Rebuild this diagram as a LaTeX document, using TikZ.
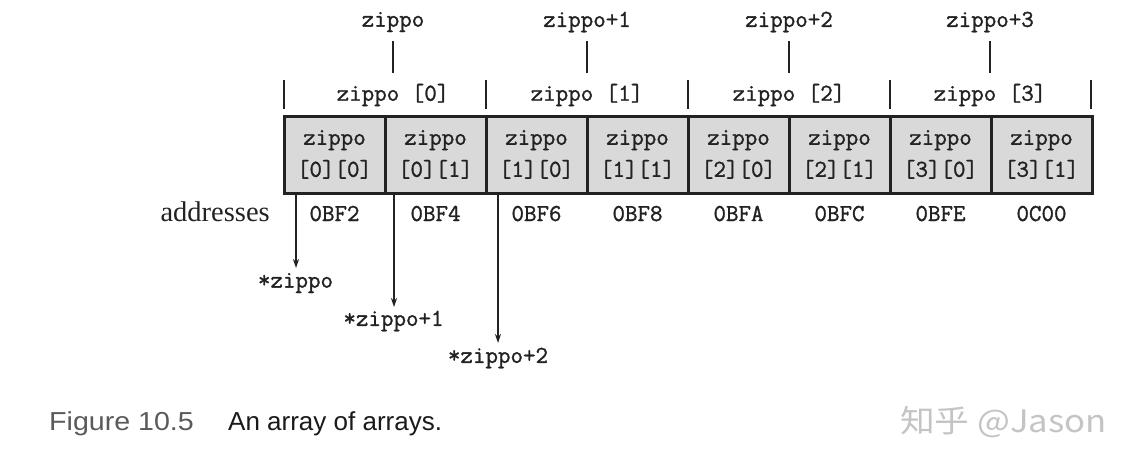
\documentclass[tikz,border=0pt]{standalone}
\usepackage{fontspec}
\usetikzlibrary{arrows.meta}
\newfontfamily\monof[FakeBold=1.3]{Latin Modern Mono}
\newfontfamily\seriff{Liberation Serif}
\newfontfamily\sansf{Liberation Sans}
\newfontfamily\cjkf{Noto Sans CJK SC}
\definecolor{ink}{HTML}{222222}
\definecolor{cellfill}{HTML}{D9D9D9}
\definecolor{capgray}{HTML}{5A5A5A}
\definecolor{capdark}{HTML}{1A1A1A}
\definecolor{wmgray}{HTML}{C4C4C4}
\tikzset{
  mono/.style={font=\monof\fontsize{24.3}{32}\selectfont, text=ink, inner sep=0pt},
  cellbox/.style={mono, draw=ink, line width=3pt, fill=cellfill, minimum width=101pt, minimum height=77pt, align=center},
  thin/.style={draw=ink, line width=1.3pt},
  ptr/.style={thin, -{Stealth[length=9pt,width=6pt]}},
}
\begin{document}
\begin{tikzpicture}[x=1pt,y=-1pt]
\useasboundingbox (0,0) rectangle (1134,466);
% cells
\foreach \i in {0,...,3}{
  \foreach \j in {0,1}{
    \pgfmathsetmacro{\cx}{334.5+101*(2*\i+\j)}
    \node[cellbox] (c\i\j) at (\cx,154.5) {zippo\\{[}\i{]}{[}\j{]}};
  }
}
% group labels
\node[mono] (g0) at (393,95) {zippo [0]};
\node[mono] (g1) at (587,95) {zippo [1]};
\node[mono] (g2) at (789,95) {zippo [2]};
\node[mono] (g3) at (990,95) {zippo [3]};
% group ticks
\foreach \x in {284,486,688,890,1091}{
  \draw[thin] (\x,80) -- (\x,109);
}
% pointer labels
\node[mono] (p0) at (393,22) {zippo};
\node[mono] (p1) at (587,22) {zippo+1};
\node[mono] (p2) at (789,22) {zippo+2};
\node[mono] (p3) at (990,22) {zippo+3};
\foreach \k in {0,...,3}{
  \draw[thin] (p\k |- 0,41) -- (p\k |- 0,73);
}
% addresses
\node[font=\seriff\fontsize{28.5}{30}\selectfont, text=ink, anchor=base east, inner sep=0pt] (addr) at (270,221) {addresses};
\foreach \k/\t in {0/0BF2,1/0BF4,2/0BF6,3/0BF8,4/0BFA,5/0BFC,6/0BFE,7/0C00}{
  \pgfmathsetmacro{\ax}{334.5+101*\k}
  \node[mono, anchor=base] (a\k) at (\ax,221) {\t};
}
% dereference labels
\node[mono] (s0) at (295.5,283) {*zippo};
\node[mono] (s1) at (393.5,321) {*zippo+1};
\node[mono] (s2) at (498,358) {*zippo+2};
\coordinate (t0) at (296,268);
\coordinate (t1) at (394,307);
\coordinate (t2) at (498,343);
\draw[ptr] (t0 |- c00.south) -- (t0);
\draw[ptr] (t1 |- c01.south) -- (t1);
\draw[ptr] (t2 |- c10.south) -- (t2);
% caption
\node[anchor=base west, inner sep=0pt, text=capgray] (cap1) at (49,430) {\scalebox{1.1}[1]{\sansf\fontsize{26}{30}\selectfont Figure 10.5}};
\node[anchor=base west, inner sep=0pt, text=capdark] (cap2) at (228,430) {\sansf\fontsize{26}{30}\selectfont An array of arrays.};
\node[anchor=base west, inner sep=0pt, text=wmgray] (wm) at (900,432) {\scalebox{1.12}[1]{\cjkf\fontsize{31}{34}\selectfont 知乎 @Jason}};
\end{tikzpicture}
\end{document}
